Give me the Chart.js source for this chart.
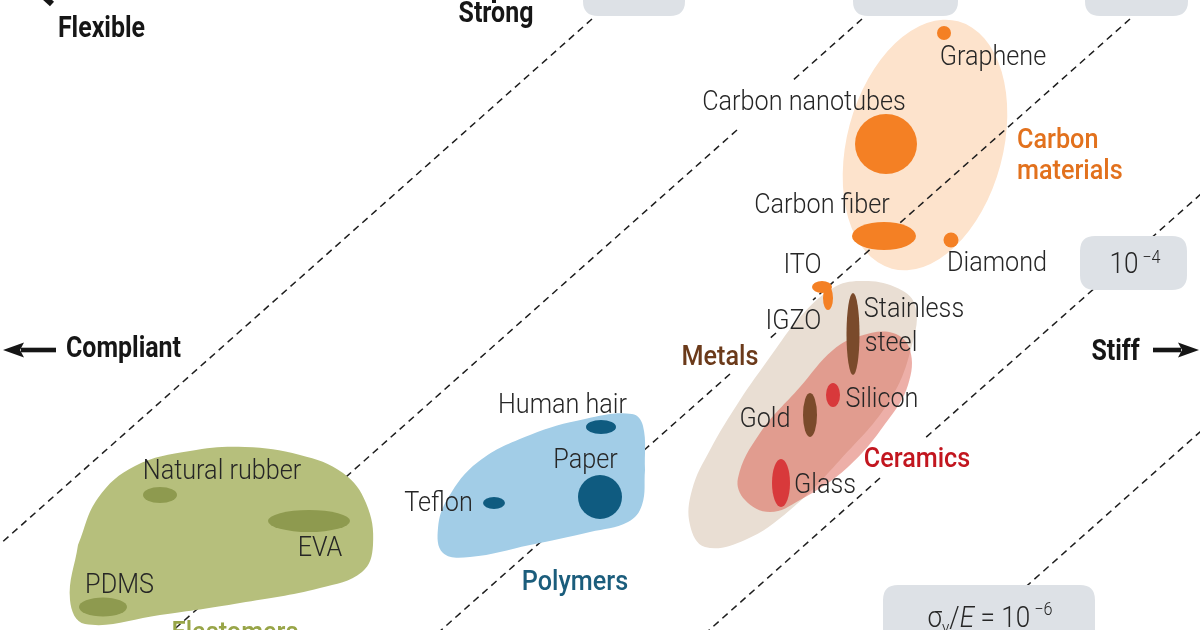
<!DOCTYPE html>
<html>
<head>
<meta charset="utf-8">
<title>Strength vs stiffness</title>
<script src="https://cdn.jsdelivr.net/npm/chart.js@4.4.1/dist/chart.umd.min.js"></script>
<style>
  html, body { margin: 0; padding: 0; background: #fff; }
  #wrap { width: 1200px; height: 630px; position: relative; }
</style>
</head>
<body>
<div id="wrap"><canvas id="ashby"></canvas></div>
<script>
// Ashby-style map: stiffness (x) against strength (y), both in log plot units.

// material family envelopes
const elastomerX = [7.8, 9.8, 13.5, 19.0, 24.5, 30.0, 34.3, 36.6, 37.3, 36.2, 32.0, 24.0, 16.0, 8.5, 7.0, 7.8];
const elastomerY = [8.5, 13.2, 16.4, 17.9, 18.3, 17.5, 15.7, 12.7, 8.5, 5.8, 4.2, 2.7, 1.5, 0.6, 3.0, 8.5];

const polymerX = [64.5, 64.2, 62.8, 59.0, 53.0, 47.0, 44.3, 43.8, 44.8, 47.8, 53.0, 58.5, 63.2, 64.3, 64.5];
const polymerY = [16.0, 12.5, 10.8, 9.8, 8.5, 7.3, 7.7, 10.2, 13.2, 16.8, 19.5, 21.1, 21.6, 20.4, 16.0];

const metalX = [77.0, 80.0, 83.3, 86.0, 89.5, 91.5, 91.2, 89.0, 84.0, 79.0, 74.5, 70.5, 69.0, 69.2, 71.0, 74.0, 77.0];
const metalY = [27.3, 31.3, 34.2, 34.9, 34.3, 32.5, 28.5, 23.0, 17.0, 12.0, 9.0, 8.3, 10.5, 14.0, 18.0, 23.0, 27.3];

const ceramicX = [80.0, 83.3, 86.0, 89.3, 91.0, 90.8, 88.8, 84.8, 80.0, 77.0, 74.5, 73.8, 76.0, 80.0];
const ceramicY = [24.3, 28.0, 29.4, 29.7, 28.0, 24.5, 21.0, 16.3, 13.0, 11.8, 13.0, 15.2, 19.7, 24.3];

// carbon envelope is an ellipse: centre, half widths, tilt in degrees
const carbonZone = [92.5, 48.5, 7.8, 12.8, 15];

// single materials: centre and half spread in each direction
const markNames = ['Graphene', 'Carbon nanotubes', 'Carbon fiber', 'Diamond', 'ITO', 'IGZO',
  'Stainless steel', 'Gold', 'Silicon', 'Glass', 'Human hair', 'Paper', 'Teflon',
  'Natural rubber', 'EVA', 'PDMS'];
const markGroup = ['carbon', 'carbon', 'carbon', 'carbon', 'carbon', 'carbon',
  'metal', 'metal', 'ceramic', 'ceramic', 'polymer', 'polymer', 'polymer',
  'elastomer', 'elastomer', 'elastomer'];
const markX = [94.4, 88.6, 88.4, 95.1, 82.2, 82.8, 85.3, 81.0, 83.3, 78.1, 60.1, 60.0, 49.4, 16.0, 30.9, 10.3];
const markY = [59.7, 48.6, 39.4, 39.0, 34.3, 33.2, 29.6, 21.5, 23.5, 14.7, 20.3, 13.3, 12.7, 13.5, 10.9, 2.3];
const markDX = [0.7, 3.1, 3.2, 0.75, 1.0, 0.5, 0.65, 0.7, 0.7, 0.9, 1.5, 2.2, 1.1, 1.7, 4.1, 2.4];
const markDY = [0.7, 3.0, 1.4, 0.75, 0.6, 1.2, 4.1, 2.2, 1.2, 2.4, 0.7, 2.2, 0.6, 0.8, 1.1, 0.95];

// lines of constant yield strain (sigma_y / E), null = gap behind a label
const strainLine1X = [59.2, -1.0];
const strainLine1Y = [61.1, 7.7];
const strainLine2X = [86.2, 79.1, null, 73.7, 16.0];
const strainLine2Y = [61.1, 54.8, null, 50.0, -1.2];
const strainLine3X = [113.0, 81.3, null, 77.6, 76.7, null, 73.0, 43.0];
const strainLine3Y = [61.1, 33.0, null, 29.7, 28.9, null, 25.6, -1.0];
const strainLine4X = [121.0, 92.3, null, 88.0, 69.8];
const strainLine4Y = [44.4, 19.0, null, 15.2, -1.0];
const strainLine5X = [121.0, 101.1];
const strainLine5Y = [20.7, 3.0];

const palette = {
  carbonZone: '#fde3cc', carbon: '#f48024', carbonText: '#e2711d',
  metalZone: '#e9ded3', metal: '#7a4a2b', metalText: '#6b3a1a',
  ceramicZone: 'rgba(214, 72, 58, 0.44)', ceramic: '#d8393b', ceramicText: '#c2161f',
  polymerZone: '#a2cde7', polymer: '#0f5b80', polymerText: '#1b5d7c',
  elastomerZone: '#b6bf7c', elastomer: '#8e9a4f', elastomerText: '#98a548',
  ink: '#262626', bold: '#161616', box: '#dde1e6', guide: '#1e1e1e'
};

const NAME_FONT = '300 28px Roboto';
const GROUP_FONT = '500 28px Roboto';
const SIDE_FONT = 'bold 29px Roboto';

// annotations: text, x, y, font, colour, align
const labels = [
  ['Graphene', 99.3, 57.5, NAME_FONT, palette.ink],
  ['Carbon nanotubes', 80.4, 53.0, NAME_FONT, palette.ink],
  ['Carbon fiber', 82.2, 42.65, NAME_FONT, palette.ink],
  ['Diamond', 99.7, 36.85, NAME_FONT, palette.ink],
  ['ITO', 80.25, 36.7, NAME_FONT, palette.ink],
  ['IGZO', 79.35, 31.1, NAME_FONT, palette.ink],
  ['Stainless', 91.4, 32.25, NAME_FONT, palette.ink],
  ['steel', 89.1, 28.9, NAME_FONT, palette.ink],
  ['Silicon', 88.2, 23.3, NAME_FONT, palette.ink],
  ['Gold', 76.5, 21.3, NAME_FONT, palette.ink],
  ['Glass', 82.5, 14.7, NAME_FONT, palette.ink],
  ['Human hair', 56.25, 22.7, NAME_FONT, palette.ink],
  ['Paper', 58.55, 17.2, NAME_FONT, palette.ink],
  ['Teflon', 43.85, 12.9, NAME_FONT, palette.ink],
  ['Natural rubber', 22.2, 16.1, NAME_FONT, palette.ink],
  ['EVA', 32.0, 8.4, NAME_FONT, palette.ink],
  ['PDMS', 11.95, 4.65, NAME_FONT, palette.ink],
  ['Carbon', 101.7, 49.2, GROUP_FONT, palette.carbonText, 'left'],
  ['materials', 101.7, 46.1, GROUP_FONT, palette.carbonText, 'left'],
  ['Metals', 72.0, 27.5, GROUP_FONT, palette.metalText],
  ['Ceramics', 91.7, 17.3, GROUP_FONT, palette.ceramicText],
  ['Polymers', 57.5, 5.0, GROUP_FONT, palette.polymerText],
  ['Elastomers', 23.5, -0.15, GROUP_FONT, palette.elastomerText],
  ['Flexible', 10.15, 60.35, SIDE_FONT, palette.bold],
  ['Strong', 49.6, 61.8, SIDE_FONT, palette.bold],
  ['Compliant', 12.35, 28.3, SIDE_FONT, palette.bold],
  ['Stiff', 111.55, 28.0, SIDE_FONT, palette.bold]
];

// horizontal squeeze per font, the print face is a condensed one
const squeeze = { [NAME_FONT]: 0.9, [GROUP_FONT]: 0.9, [SIDE_FONT]: 0.86 };

// rounded value tags: x0, x1, y0, y1
const tags = [
  [58.3, 68.5, 61.4, 66.0],
  [85.3, 95.8, 61.4, 66.0],
  [108.5, 118.8, 61.4, 66.0],
  [108.0, 118.7, 34.0, 39.4],
  [88.3, 109.5, -2.0, 4.5]
];

const px = (c, v) => c.scales.x.getPixelForValue(v);
const py = (c, v) => c.scales.y.getPixelForValue(v);

function ellipse(c, x, y, dx, dy, tilt, color) {
  const ctx = c.ctx;
  const cx = px(c, x), cy = py(c, y);
  const rx = Math.abs(px(c, x + dx) - cx), ry = Math.abs(py(c, y + dy) - cy);
  ctx.save();
  ctx.fillStyle = color;
  ctx.beginPath();
  ctx.ellipse(cx, cy, rx, ry, tilt * Math.PI / 180, 0, Math.PI * 2);
  ctx.fill();
  ctx.restore();
}

function roundBox(ctx, x0, y0, x1, y1, r) {
  ctx.beginPath();
  ctx.moveTo(x0 + r, y0);
  ctx.lineTo(x1 - r, y0);
  ctx.quadraticCurveTo(x1, y0, x1, y0 + r);
  ctx.lineTo(x1, y1 - r);
  ctx.quadraticCurveTo(x1, y1, x1 - r, y1);
  ctx.lineTo(x0 + r, y1);
  ctx.quadraticCurveTo(x0, y1, x0, y1 - r);
  ctx.lineTo(x0, y0 + r);
  ctx.quadraticCurveTo(x0, y0, x0 + r, y0);
  ctx.closePath();
}

function text(c, str, x, y, font, color, align) {
  const ctx = c.ctx;
  const size = parseFloat(font.match(/(\d+)px/)[1]);
  ctx.save();
  ctx.font = font;
  ctx.fillStyle = color;
  ctx.textBaseline = 'alphabetic';
  ctx.textAlign = align || 'center';
  ctx.translate(px(c, x), py(c, y) + size * 0.355);
  ctx.scale(squeeze[font] || 1, 1);
  ctx.fillText(str, 0, 0);
  ctx.restore();
}

// runs of text with sub/superscripts, centred on x
function richText(c, runs, x, y) {
  const ctx = c.ctx;
  const sx = 0.9;
  ctx.save();
  ctx.textBaseline = 'alphabetic';
  ctx.textAlign = 'left';
  ctx.fillStyle = palette.ink;
  let total = 0;
  runs.forEach(r => { ctx.font = r.font; total += ctx.measureText(r.t).width; });
  ctx.translate(px(c, x) - total * sx / 2, py(c, y));
  ctx.scale(sx, 1);
  let cx = 0;
  runs.forEach(r => {
    ctx.font = r.font;
    ctx.fillText(r.t, cx, r.dy || 0);
    cx += ctx.measureText(r.t).width;
  });
  ctx.restore();
}

function arrow(c, xTail, xTip, y) {
  const ctx = c.ctx;
  const t = px(c, xTail), h = px(c, xTip), Y = py(c, y);
  const dir = Math.sign(h - t);
  ctx.save();
  ctx.fillStyle = palette.bold;
  ctx.fillRect(Math.min(t, h - dir * 18), Y - 2.3, Math.abs(h - dir * 18 - t), 4.6);
  ctx.beginPath();
  ctx.moveTo(h, Y);
  ctx.lineTo(h - dir * 21, Y - 7.5);
  ctx.lineTo(h - dir * 17, Y);
  ctx.lineTo(h - dir * 21, Y + 7.5);
  ctx.closePath();
  ctx.fill();
  ctx.restore();
}

const colorOf = g => palette[g];

const ashbyDecor = {
  id: 'ashbyDecor',
  beforeDatasetsDraw(c) {
    ellipse(c, carbonZone[0], carbonZone[1], carbonZone[2], carbonZone[3], carbonZone[4], palette.carbonZone);
  },
  afterDatasetsDraw(c) {
    const ctx = c.ctx;
    markNames.forEach((n, i) => {
      ellipse(c, markX[i], markY[i], markDX[i], markDY[i], 0, colorOf(markGroup[i]));
    });

    tags.forEach(b => {
      ctx.save();
      ctx.fillStyle = palette.box;
      roundBox(ctx, px(c, b[0]), py(c, b[3]), px(c, b[1]), py(c, b[2]), 15);
      ctx.fill();
      ctx.restore();
    });

    richText(c, [
      { t: '10', font: '300 29px Roboto' },
      { t: ' \u22124', font: '300 18px Roboto', dy: -10 }
    ], 113.5, 35.7);
    richText(c, [
      { t: '\u03c3', font: '300 29px Roboto' },
      { t: 'y', font: '300 17px Roboto', dy: 6 },
      { t: '/', font: '300 29px Roboto' },
      { t: 'E', font: 'italic 300 29px Roboto' },
      { t: ' = 10', font: '300 29px Roboto' },
      { t: ' \u22126', font: '300 18px Roboto', dy: -12 }
    ], 99.0, 0.3);

    labels.forEach(l => text(c, l[0], l[1], l[2], l[3], l[4], l[5]));

    arrow(c, 5.6, 0.3, 28.0);
    arrow(c, 115.3, 119.9, 28.0);

    // arrow stubs cut by the top edge
    ctx.save();
    ctx.strokeStyle = palette.bold;
    ctx.lineWidth = 6;
    ctx.beginPath();
    ctx.moveTo(px(c, 4.1), py(c, 63.6));
    ctx.lineTo(px(c, 5.2), py(c, 62.6));
    ctx.stroke();
    ctx.lineWidth = 4;
    ctx.beginPath();
    ctx.moveTo(px(c, 49.4), py(c, 63.6));
    ctx.lineTo(px(c, 49.4), py(c, 62.7));
    ctx.stroke();
    ctx.restore();
  }
};

const pts = (xs, ys) => xs.map((x, i) => ({ x: x, y: ys[i] }));

function zone(xs, ys, color, order) {
  return {
    data: pts(xs, ys), backgroundColor: color, borderColor: 'rgba(0,0,0,0)', borderWidth: 0,
    fill: 'shape', tension: 0.4, pointRadius: 0, order: order
  };
}

function guide(xs, ys) {
  return {
    data: pts(xs, ys), borderColor: palette.guide, borderWidth: 1.5, borderDash: [7, 5],
    fill: false, tension: 0, pointRadius: 0, spanGaps: false, order: 9
  };
}

new Chart(document.getElementById('ashby'), {
  type: 'line',
  data: {
    datasets: [
      zone(ceramicX, ceramicY, palette.ceramicZone, 3),
      zone(polymerX, polymerY, palette.polymerZone, 3),
      zone(elastomerX, elastomerY, palette.elastomerZone, 3),
      zone(metalX, metalY, palette.metalZone, 4),
      guide(strainLine1X, strainLine1Y),
      guide(strainLine2X, strainLine2Y),
      guide(strainLine3X, strainLine3Y),
      guide(strainLine4X, strainLine4Y),
      guide(strainLine5X, strainLine5Y)
    ]
  },
  options: {
    responsive: true,
    maintainAspectRatio: false,
    animation: false,
    events: [],
    layout: { padding: 0 },
    scales: {
      x: { type: 'linear', min: 0, max: 120, display: false },
      y: { type: 'linear', min: 0, max: 63, display: false }
    },
    plugins: { legend: { display: false }, tooltip: { enabled: false } }
  },
  plugins: [ashbyDecor]
});
</script>
</body>
</html>
